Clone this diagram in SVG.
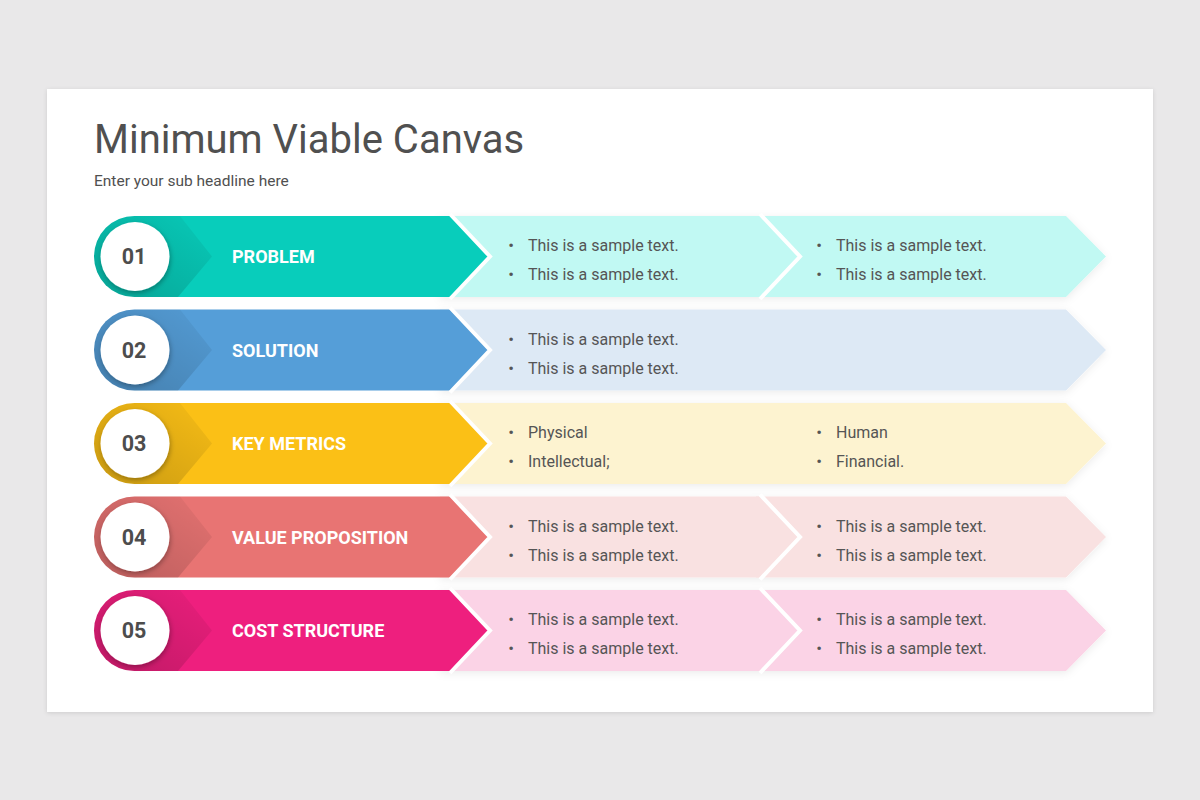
<svg xmlns="http://www.w3.org/2000/svg" width="1200" height="800" viewBox="0 0 1200 800">
<defs>
<style>
.title{font-family:Roboto,"Liberation Sans",sans-serif;font-size:40px;fill:#505050}
.sub{font-family:Roboto,"Liberation Sans",sans-serif;font-size:15.5px;fill:#505050}
.num{font-family:Roboto,"Liberation Sans",sans-serif;font-size:21.5px;font-weight:bold;fill:#4d4d4d;text-anchor:middle}
.lbl{font-family:Roboto,"Liberation Sans",sans-serif;font-size:18px;font-weight:bold;fill:#ffffff}
.txt{font-family:Roboto,"Liberation Sans",sans-serif;font-size:16px;fill:#555555}
.bul{font-family:Roboto,"Liberation Sans",sans-serif;font-size:17px;fill:#555555;text-anchor:middle}
.gap{fill:none;stroke:#ffffff;stroke-width:4}
</style>
<linearGradient id="shade" x1="0" y1="1" x2="1" y2="0">
<stop offset="0" stop-color="#000" stop-opacity="0.2"/>
<stop offset="1" stop-color="#000" stop-opacity="0.02"/>
</linearGradient>
<filter id="cshadow" x="-30%" y="-30%" width="160%" height="160%">
<feDropShadow dx="1" dy="2" stdDeviation="2.5" flood-color="#000" flood-opacity="0.3"/>
</filter>
<filter id="rshadow" x="-5%" y="-30%" width="110%" height="160%">
<feDropShadow dx="0" dy="2" stdDeviation="4" flood-color="#000" flood-opacity="0.08"/>
</filter>
<filter id="card" x="-5%" y="-5%" width="110%" height="110%">
<feDropShadow dx="0" dy="1" stdDeviation="2" flood-color="#000" flood-opacity="0.12"/>
</filter>
<path id="split2" d="M756,0 H1066 L1106,40.5 L1066,81 H756 Z"/>
<path id="split1" d="M440,0 H760 L800,40.5 L760,81 H440 Z"/>
<path id="full" d="M440,0 H1066 L1106,40.5 L1066,81 H440 Z"/>
<path id="head" d="M134.5,0 H450 L490,40.5 L450,81 H134.5 A40.5,40.5 0 0 1 134.5,0 Z"/>
<path id="dark" d="M134.5,0 H180 L212,40.5 L178,81 H134.5 A40.5,40.5 0 0 1 134.5,0 Z"/>
<path id="gap1" d="M760,-2 L800,40.5 L760,83"/>
<path id="gap0" d="M450,-2 L490,40.5 L450,83"/>
</defs>
<rect width="1200" height="800" fill="#e9e8e9"/>
<rect x="47" y="89" width="1106" height="623" fill="#ffffff" filter="url(#card)"/>
<text class="title" x="94" y="153">Minimum Viable Canvas</text>
<text class="sub" x="94" y="186">Enter your sub headline here</text>

<g id="row1" transform="translate(0,216)">
<g filter="url(#rshadow)">
<use href="#split2" fill="#c1f9f3"/>
<use href="#split1" fill="#c1f9f3"/>
</g>
<use href="#gap1" class="gap"/>
<use href="#head" fill="#08cdbb"/>
<use href="#gap0" class="gap"/>
<use href="#dark" fill="url(#shade)"/>
<circle cx="135" cy="40.5" r="34.5" fill="#fff" filter="url(#cshadow)"/>
<text class="num" x="134" y="48">01</text>
<text class="lbl" x="232" y="47">PROBLEM</text>
<text class="bul" x="511" y="35">•</text><text class="txt" x="528" y="35">This is a sample text.</text>
<text class="bul" x="511" y="64">•</text><text class="txt" x="528" y="64">This is a sample text.</text>
<text class="bul" x="819" y="35">•</text><text class="txt" x="836" y="35">This is a sample text.</text>
<text class="bul" x="819" y="64">•</text><text class="txt" x="836" y="64">This is a sample text.</text>
</g>

<g id="row2" transform="translate(0,309.5)">
<g filter="url(#rshadow)">
<use href="#full" fill="#dde9f5"/>
</g>
<use href="#head" fill="#559ed8"/>
<use href="#gap0" class="gap"/>
<use href="#dark" fill="url(#shade)"/>
<circle cx="135" cy="40.5" r="34.5" fill="#fff" filter="url(#cshadow)"/>
<text class="num" x="134" y="48">02</text>
<text class="lbl" x="232" y="47">SOLUTION</text>
<text class="bul" x="511" y="35">•</text><text class="txt" x="528" y="35">This is a sample text.</text>
<text class="bul" x="511" y="64">•</text><text class="txt" x="528" y="64">This is a sample text.</text>
</g>

<g id="row3" transform="translate(0,403)">
<g filter="url(#rshadow)">
<use href="#full" fill="#fdf3d0"/>
</g>
<use href="#head" fill="#fbc016"/>
<use href="#gap0" class="gap"/>
<use href="#dark" fill="url(#shade)"/>
<circle cx="135" cy="40.5" r="34.5" fill="#fff" filter="url(#cshadow)"/>
<text class="num" x="134" y="48">03</text>
<text class="lbl" x="232" y="47">KEY METRICS</text>
<text class="bul" x="511" y="35">•</text><text class="txt" x="528" y="35">Physical</text>
<text class="bul" x="511" y="64">•</text><text class="txt" x="528" y="64">Intellectual;</text>
<text class="bul" x="819" y="35">•</text><text class="txt" x="836" y="35">Human</text>
<text class="bul" x="819" y="64">•</text><text class="txt" x="836" y="64">Financial.</text>
</g>

<g id="row4" transform="translate(0,496.5)">
<g filter="url(#rshadow)">
<use href="#split2" fill="#f9e1e1"/>
<use href="#split1" fill="#f9e1e1"/>
</g>
<use href="#gap1" class="gap"/>
<use href="#head" fill="#e87473"/>
<use href="#gap0" class="gap"/>
<use href="#dark" fill="url(#shade)"/>
<circle cx="135" cy="40.5" r="34.5" fill="#fff" filter="url(#cshadow)"/>
<text class="num" x="134" y="48">04</text>
<text class="lbl" x="232" y="47">VALUE PROPOSITION</text>
<text class="bul" x="511" y="35">•</text><text class="txt" x="528" y="35">This is a sample text.</text>
<text class="bul" x="511" y="64">•</text><text class="txt" x="528" y="64">This is a sample text.</text>
<text class="bul" x="819" y="35">•</text><text class="txt" x="836" y="35">This is a sample text.</text>
<text class="bul" x="819" y="64">•</text><text class="txt" x="836" y="64">This is a sample text.</text>
</g>

<g id="row5" transform="translate(0,590)">
<g filter="url(#rshadow)">
<use href="#split2" fill="#fbd3e6"/>
<use href="#split1" fill="#fbd3e6"/>
</g>
<use href="#gap1" class="gap"/>
<use href="#head" fill="#ee1f7e"/>
<use href="#gap0" class="gap"/>
<use href="#dark" fill="url(#shade)"/>
<circle cx="135" cy="40.5" r="34.5" fill="#fff" filter="url(#cshadow)"/>
<text class="num" x="134" y="48">05</text>
<text class="lbl" x="232" y="47">COST STRUCTURE</text>
<text class="bul" x="511" y="35">•</text><text class="txt" x="528" y="35">This is a sample text.</text>
<text class="bul" x="511" y="64">•</text><text class="txt" x="528" y="64">This is a sample text.</text>
<text class="bul" x="819" y="35">•</text><text class="txt" x="836" y="35">This is a sample text.</text>
<text class="bul" x="819" y="64">•</text><text class="txt" x="836" y="64">This is a sample text.</text>
</g>
</svg>
